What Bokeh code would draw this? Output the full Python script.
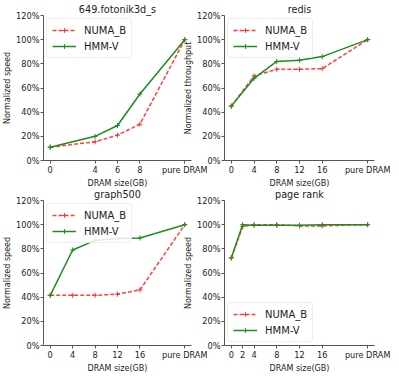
from bokeh.plotting import figure
from bokeh.layouts import row, column
from bokeh.models import FixedTicker, NumeralTickFormatter, Range1d
from bokeh.embed import file_html
from bokeh.resources import INLINE

# ---- data ----
fot_x = [0, 4, 6, 8, 12]
fot_ticks = ["0", "4", "6", "8", "pure DRAM"]
fot_numa = [0.11, 0.155, 0.21, 0.30, 1.00]
fot_hmm = [0.11, 0.20, 0.29, 0.55, 1.00]

redis_x = [0, 4, 8, 12, 16, 24]
redis_ticks = ["0", "4", "8", "12", "16", "pure DRAM"]
redis_numa = [0.45, 0.70, 0.755, 0.755, 0.76, 1.00]
redis_hmm = [0.45, 0.68, 0.82, 0.83, 0.86, 1.00]

g500_x = [0, 4, 8, 12, 16, 24]
g500_ticks = ["0", "4", "8", "12", "16", "pure DRAM"]
g500_numa = [0.415, 0.415, 0.415, 0.425, 0.46, 1.00]
g500_hmm = [0.415, 0.79, 0.87, 0.885, 0.89, 1.00]

pr_x = [0, 2, 4, 8, 12, 16, 24]
pr_ticks = ["0", "2", "4", "8", "12", "16", "pure DRAM"]
pr_numa = [0.725, 0.985, 1.0, 1.0, 0.99, 0.99, 1.0]
pr_hmm = [0.725, 1.0, 0.995, 0.995, 0.995, 1.0, 1.0]

y_ticks = [0, 0.2, 0.4, 0.6, 0.8, 1.0, 1.2]

RED = "#ff2a2a"
GREEN = "#1e8c1e"
FONT = "DejaVu Sans"


def panel(title, ylabel, x, numa, hmm, tick_labels, legend_loc, fw, overlap_left=False):
    xmax = x[-1]
    p = figure(frame_width=fw, frame_height=145, output_backend="svg",
               toolbar_location=None, title=title,
               x_range=Range1d(-0.05 * xmax, 1.05 * xmax),
               y_range=Range1d(0, 1.2),
               min_border_left=0, min_border_right=16,
               min_border_top=0, min_border_bottom=0)
    p.border_fill_alpha = 0
    p.outline_line_color = None
    p.xgrid.visible = False
    p.ygrid.visible = False
    p.title.text_font = FONT
    p.title.text_font_size = "9.7px"
    p.title.text_font_style = "normal"
    p.title.text_color = "#222222"
    p.title.align = "center"
    p.title.standoff = 2
    p.title.offset = 0

    for ax in (p.xaxis[0], p.yaxis[0]):
        ax.axis_line_color = "#555555"
        ax.axis_line_width = 1
        ax.major_tick_line_color = "#555555"
        ax.major_tick_out = 3
        ax.major_tick_in = 0
        ax.minor_tick_out = 0
        ax.minor_tick_in = 0
        ax.major_label_text_font = FONT
        ax.major_label_text_font_size = "8.2px"
        ax.major_label_text_color = "#222222"
        ax.major_label_standoff = 1
        ax.axis_label_text_font = FONT
        ax.axis_label_text_font_size = "8px"
        ax.axis_label_text_font_style = "normal"
        ax.axis_label_text_color = "#222222"
        ax.axis_label_standoff = 1

    p.xaxis.axis_label = "DRAM size(GB)"
    p.xaxis.ticker = FixedTicker(ticks=x)
    p.xaxis.major_label_overrides = {xv: lab for xv, lab in zip(x, tick_labels)}
    p.yaxis.axis_label = ylabel
    p.yaxis.ticker = FixedTicker(ticks=y_ticks)
    p.yaxis.formatter = NumeralTickFormatter(format="0%")

    p.line(x, numa, color=RED, line_dash="4 2", line_width=1.5, alpha=0.9, legend_label="NUMA_B")
    p.scatter(x, numa, marker="cross", size=5, color=RED, alpha=0.9, legend_label="NUMA_B")
    p.line(x, hmm, color=GREEN, line_width=1.5, legend_label="HMM-V")
    p.scatter(x, hmm, marker="cross", size=5, color=GREEN, legend_label="HMM-V")

    lg = p.legend[0]
    lg.location = legend_loc
    lg.label_text_font = FONT
    lg.label_text_font_size = "10px"
    lg.label_text_color = "#222222"
    lg.glyph_height = 12
    lg.glyph_width = 24
    lg.label_height = 12
    lg.label_standoff = 8
    lg.spacing = 4
    lg.padding = 5
    lg.margin = 3
    lg.border_line_color = "#dddddd"
    lg.border_radius = 3
    lg.background_fill_alpha = 0.85

    if overlap_left:
        p.margin = (0, 0, 0, -26)
    return p


f1 = panel("649.fotonik3d_s", "Normalized speed", fot_x, fot_numa, fot_hmm, fot_ticks, "top_left", 148)
f2 = panel("redis", "Normalized throughput", redis_x, redis_numa, redis_hmm, redis_ticks, "top_left", 150, True)
f3 = panel("graph500", "Normalized speed", g500_x, g500_numa, g500_hmm, g500_ticks, "top_left", 148)
f4 = panel("page rank", "Normalized speed", pr_x, pr_numa, pr_hmm, pr_ticks, "bottom_left", 150, True)

r1 = row(f1, f2)
r2 = row(f3, f4)
r2.margin = (-5, 0, 0, 0)
layout = column(r1, r2)

open("out.html", "w").write(file_html(layout, INLINE))
